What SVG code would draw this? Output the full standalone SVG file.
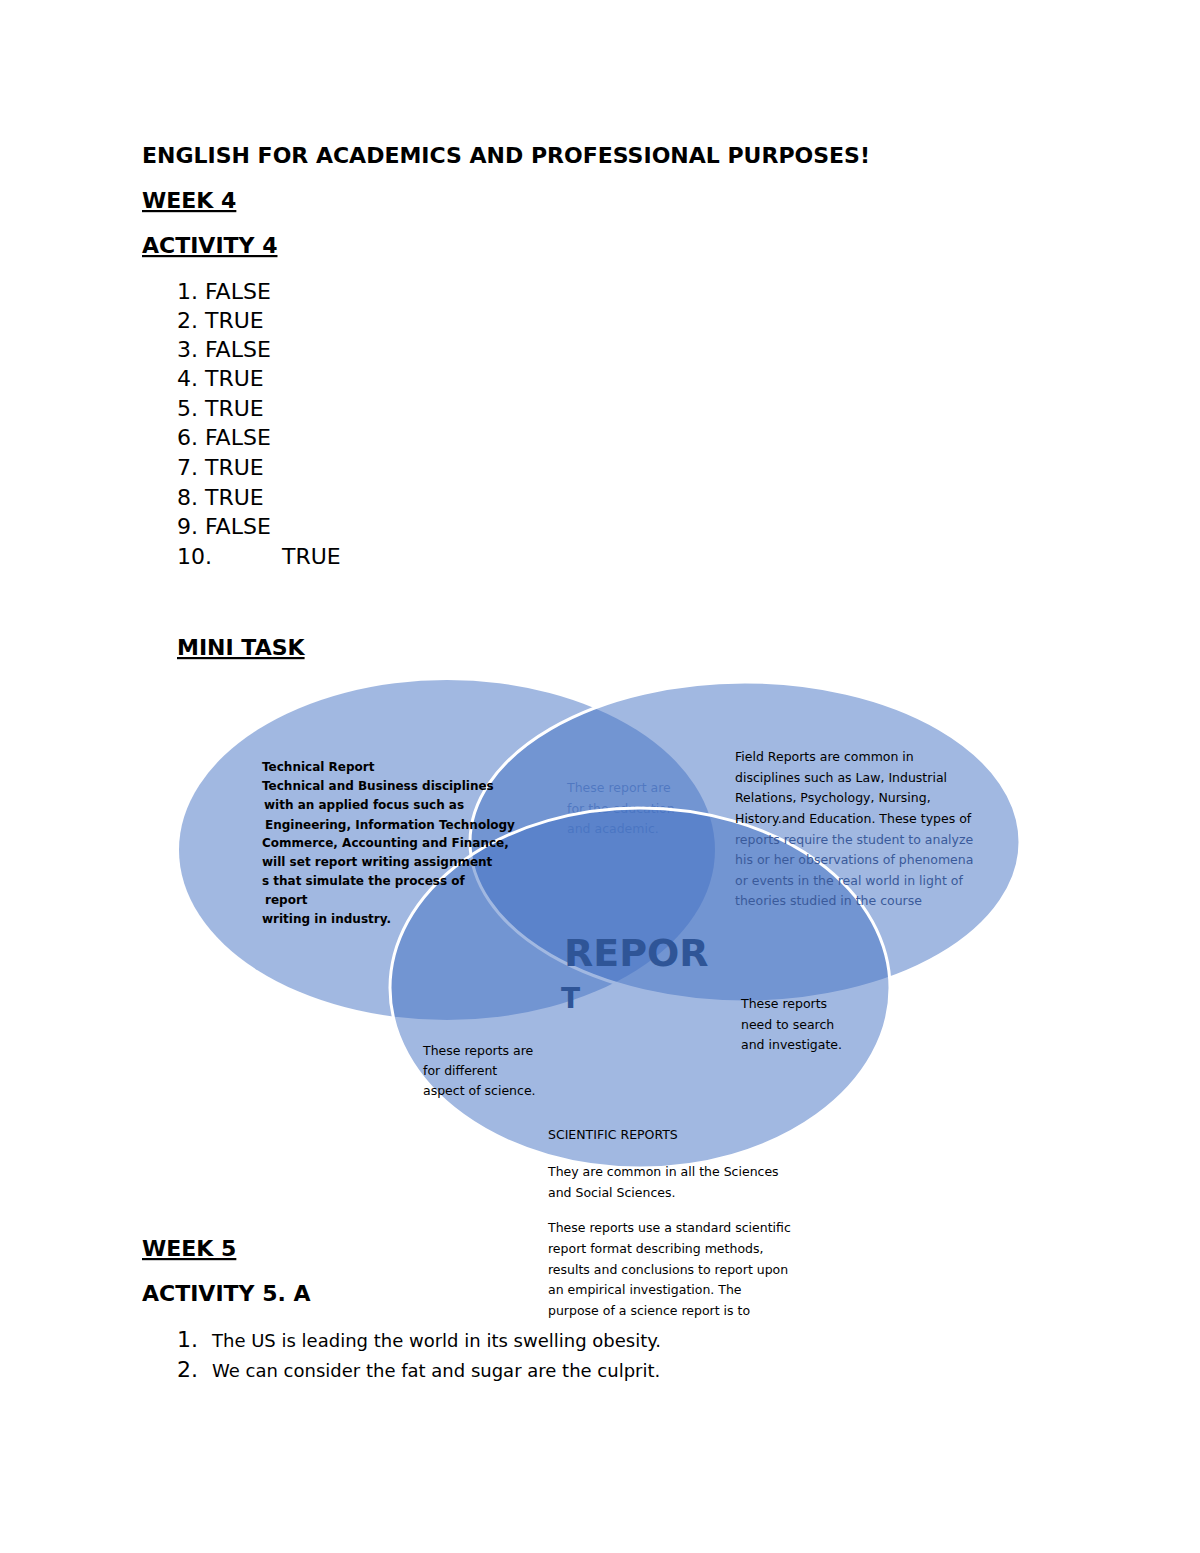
<svg xmlns="http://www.w3.org/2000/svg" width="1200" height="1553" viewBox="0 0 1200 1553">
<style>
text{font-family:"DejaVu Sans",sans-serif;fill:#000}
.h{font-size:22px;font-weight:bold}
.u{text-decoration:underline}
.l{font-size:22px}
.s{font-size:12.5px}
.sb{font-size:12px;font-weight:bold}
.f{fill:#3a5a9a}
.e{fill:#4472C4;fill-opacity:0.5}
</style>
<rect width="1200" height="1553" fill="#fff"/>
<g id="header">
<text class="h" x="142" y="163">ENGLISH FOR ACADEMICS AND PROFESSIONAL PURPOSES!</text>
<text class="h u" x="142" y="208">WEEK 4</text>
<text class="h u" x="142" y="253">ACTIVITY 4</text>
<text class="l" x="177" y="299">1.  FALSE</text>
<text class="l" x="177" y="328">2.  TRUE</text>
<text class="l" x="177" y="357">3.  FALSE</text>
<text class="l" x="177" y="386">4.   TRUE</text>
<text class="l" x="177" y="416">5.  TRUE</text>
<text class="l" x="177" y="445">6.  FALSE</text>
<text class="l" x="177" y="475">7.  TRUE</text>
<text class="l" x="177" y="505">8.  TRUE</text>
<text class="l" x="177" y="534">9.  FALSE</text>
<text class="l" x="177" y="564">10.</text>
<text class="l" x="282" y="564">TRUE</text>
<text class="h u" x="177" y="655">MINI TASK</text>
</g>
<g id="venn">
<text class="s f" x="567" y="792" fill-opacity="0.7">These report are</text>
<text class="s f" x="567" y="813" fill-opacity="0.7">for the education</text>
<text class="s f" x="567" y="833" fill-opacity="0.7">and academic.</text>
<ellipse class="e" cx="447" cy="850" rx="268" ry="170"/>
<ellipse class="e" cx="745" cy="842" rx="275" ry="160" stroke="#fff" stroke-width="3" stroke-opacity="1"/>
<ellipse class="e" cx="640" cy="988" rx="250" ry="180" stroke="#fff" stroke-width="3"/>
</g>
<g id="tech">
<text class="sb" x="262" y="771">Technical Report</text>
<text class="sb" x="262" y="790">Technical and Business disciplines</text>
<text class="sb" x="264" y="809">with an applied focus such as</text>
<text class="sb" x="265" y="829">Engineering, Information Technology</text>
<text class="sb" x="262" y="847">Commerce, Accounting and Finance,</text>
<text class="sb" x="262" y="866">will set report writing assignment</text>
<text class="sb" x="262" y="885">s that simulate the process of</text>
<text class="sb" x="265" y="904">report</text>
<text class="sb" x="262" y="923">writing in industry.</text>
</g>
<g id="field">
<text class="s" x="735" y="761" fill="#1f2f50">Field Reports are common in</text>
<text class="s" x="735" y="782" fill="#1f2f50">disciplines such as Law, Industrial</text>
<text class="s" x="735" y="802" fill="#1f2f50">Relations, Psychology, Nursing,</text>
<text class="s" x="735" y="823" fill="#1f2f50">History.and Education. These types of</text>
<text class="s f" x="735" y="844">reports require the student to analyze</text>
<text class="s f" x="735" y="864">his or her observations of phenomena</text>
<text class="s f" x="735" y="885">or events in the real world in light of</text>
<text class="s f" x="735" y="905">theories studied in the course</text>
</g>
<g id="center">
<text x="564" y="966" style="font-size:38px;font-weight:bold;fill:#2f5597">REPOR</text>
<text x="561" y="1008" style="font-size:28px;font-weight:bold;fill:#2f5597">T</text>
</g>
<g id="sci">
<text class="s" x="741" y="1008" fill="#1f2f50">These reports</text>
<text class="s" x="741" y="1029" fill="#1f2f50">need to search</text>
<text class="s" x="741" y="1049" fill="#1f2f50">and investigate.</text>
<text class="s" x="423" y="1055" fill="#1f2f50">These reports are</text>
<text class="s" x="423" y="1075" fill="#1f2f50">for different</text>
<text class="s" x="423" y="1095" fill="#1f2f50">aspect of science.</text>
<text class="s" x="548" y="1139" fill="#1f2f50">SCIENTIFIC REPORTS</text>
<text class="s" x="548" y="1176">They are common in all the Sciences</text>
<text class="s" x="548" y="1197">and Social Sciences.</text>
<text class="s" x="548" y="1232">These reports use a standard scientific</text>
<text class="s" x="548" y="1253">report format describing methods,</text>
<text class="s" x="548" y="1274">results and conclusions to report upon</text>
<text class="s" x="548" y="1294">an empirical investigation. The</text>
<text class="s" x="548" y="1315">purpose of a science report is to</text>
</g>
<g id="week5">
<text class="h u" x="142" y="1256">WEEK 5</text>
<text class="h" x="142" y="1301">ACTIVITY 5. A</text>
<text class="l" x="177" y="1347">1.</text>
<text x="212" y="1347" style="font-size:18px">The US is leading the world in its swelling obesity.</text>
<text class="l" x="177" y="1377">2.</text>
<text x="212" y="1377" style="font-size:18px">We can consider the fat and sugar are the culprit.</text>
</g>
</svg>
